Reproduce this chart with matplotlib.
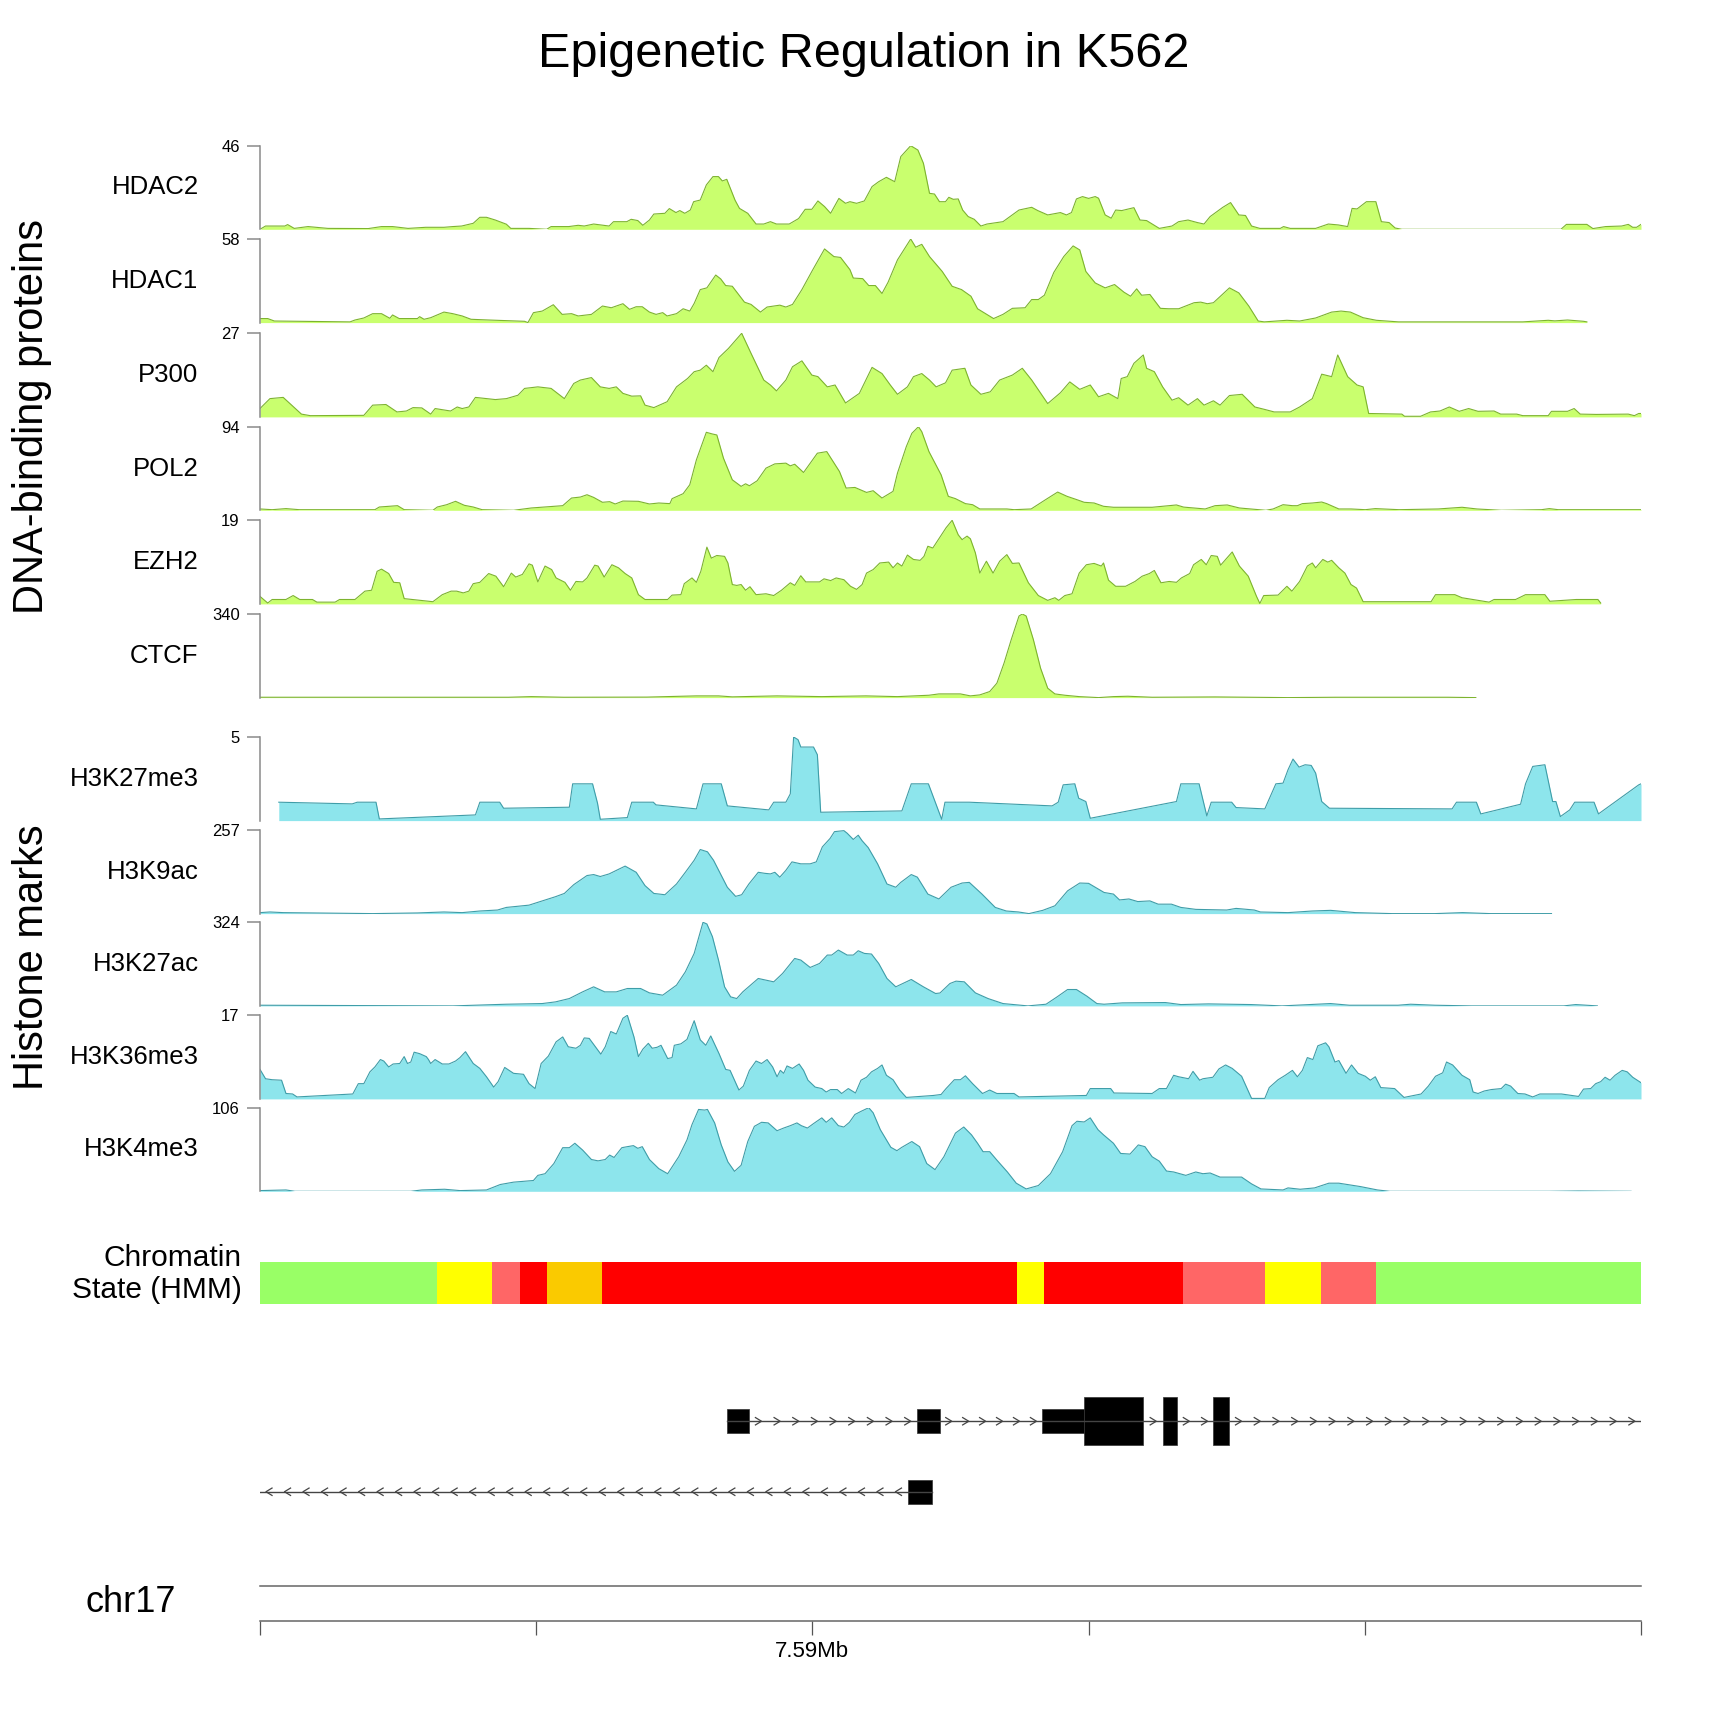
import numpy as np
import matplotlib
matplotlib.use('Agg')
import matplotlib.pyplot as plt
from matplotlib.collections import LineCollection

plt.rcParams['font.family'] = ['Liberation Sans', 'DejaVu Sans']

W = H = 1728
region_start = 7580000
region_end = 7605000

title = 'Epigenetic Regulation in K562'

# сигналы: (позиция в kb от начала окна, значение)
hdac2 = [(0.0, 0), (0.1, 1.8), (0.45, 1.8), (0.5, 2.6), (0.62, 0.5), (0.87, 1.5), (1.23, 0.5), (1.96, 0.4), (2.2, 1.5),
         (2.4, 1.5), (2.68, 0.5), (3.0, 1.1), (3.33, 1.1), (3.49, 1.5), (3.65, 1.8), (3.86, 3.3), (3.98, 6.6), (4.1, 6.6),
         (4.26, 5.1), (4.46, 2.8), (4.54, 0.5), (4.87, 0.5), (5.19, 0), (5.27, 1.5), (5.59, 1.5), (5.76, 2.2), (5.87, 1.8),
         (6.04, 2.9), (6.32, 1.8), (6.4, 4.2), (6.64, 4.2), (6.72, 5.5), (6.84, 4.8), (6.93, 2.2), (7.05, 5.1), (7.13, 8.4),
         (7.33, 8.8), (7.41, 11.4), (7.53, 9.2), (7.6, 10.3), (7.69, 8.8), (7.79, 10.6), (7.85, 15.2), (7.97, 16.1),
         (8.08, 24.4), (8.2, 29.0), (8.3, 29.0), (8.37, 26.6), (8.45, 27.5), (8.6, 16.0), (8.68, 11.5), (8.83, 8.8),
         (8.98, 2.9), (9.12, 2.9), (9.24, 4.2), (9.35, 2.9), (9.58, 2.9), (9.75, 5.9), (9.87, 11.0), (9.99, 11.0),
         (10.1, 15.6), (10.22, 12.5), (10.33, 8.8), (10.48, 17.0), (10.6, 14.3), (10.68, 15.2), (10.8, 14.3), (10.94, 15.6),
         (11.08, 23.5), (11.2, 26.2), (11.34, 28.6), (11.49, 26.2), (11.6, 40.0), (11.78, 46.0), (11.91, 43.6),
         (12.01, 36.3), (12.12, 19.8), (12.21, 19.4), (12.3, 15.2), (12.41, 15.2), (12.47, 17.6), (12.55, 16.5),
         (12.64, 16.7), (12.72, 10.6), (12.82, 7.0), (12.93, 5.5), (13.05, 1.8), (13.16, 2.9), (13.45, 4.2), (13.74, 10.6),
         (13.97, 12.1), (14.08, 10.3), (14.26, 7.9), (14.49, 9.2), (14.6, 7.9), (14.69, 9.2), (14.78, 16.7), (14.89, 18.0),
         (15.0, 17.0), (15.12, 18.0), (15.18, 17.1), (15.3, 7.9), (15.41, 6.1), (15.49, 10.6), (15.6, 10.3), (15.7, 11.0),
         (15.82, 11.9), (15.93, 5.1), (16.05, 4.8), (16.28, 0.5), (16.51, 1.8), (16.63, 4.2), (16.8, 5.1), (16.97, 3.7),
         (17.09, 2.9), (17.2, 7.0), (17.43, 12.1), (17.57, 14.7), (17.72, 7.9), (17.84, 7.6), (17.95, 1.8), (18.1, 0.5),
         (18.47, 0.5), (18.53, 1.5), (18.65, 0.5), (19.11, 0.5), (19.34, 2.9), (19.52, 2.4), (19.69, 1.5), (19.77, 11.5),
         (19.86, 11.2), (20.03, 15.2), (20.2, 15.2), (20.3, 4.2), (20.44, 3.7), (20.55, 0.7), (20.67, 0), (23.55, 0),
         (23.65, 2.7), (24.02, 2.7), (24.13, 0.4), (24.36, 1.5), (24.65, 1.8), (24.77, 2.7), (24.85, 1.1), (24.92, 1.1),
         (25.0, 2.7)]

hdac1 = [(0.0, 2.8), (0.14, 2.8), (0.26, 1.1), (1.63, 0.5), (1.72, 1.8), (1.88, 3.2), (2.04, 6.2), (2.2, 6.2), (2.35, 3.0),
         (2.4, 5.3), (2.52, 2.8), (2.85, 2.8), (2.89, 4.1), (2.97, 2.3), (3.09, 3.4), (3.33, 7.3), (3.49, 6.2), (3.66, 4.6),
         (3.82, 2.3), (4.14, 1.8), (4.79, 0.9), (4.85, 0), (4.95, 6.9), (5.11, 8.0), (5.31, 12.4), (5.47, 5.7), (5.64, 6.2),
         (5.76, 4.6), (6.0, 5.7), (6.2, 11.5), (6.36, 10.3), (6.57, 13.1), (6.69, 9.2), (6.81, 11.0), (6.92, 11.0),
         (7.05, 7.3), (7.17, 5.7), (7.29, 6.9), (7.37, 4.6), (7.54, 6.2), (7.66, 9.6), (7.78, 8.0), (7.86, 13.3),
         (7.97, 22.9), (8.09, 24.1), (8.25, 33.0), (8.34, 30.3), (8.43, 25.7), (8.55, 25.2), (8.77, 14.2), (8.89, 12.6),
         (9.06, 7.3), (9.18, 10.8), (9.41, 12.1), (9.52, 10.8), (9.64, 12.6), (9.81, 22.9), (9.99, 35.5), (10.22, 51.1),
         (10.39, 45.8), (10.51, 45.2), (10.68, 36.7), (10.74, 30.9), (10.91, 30.5), (11.02, 25.7), (11.14, 25.7),
         (11.26, 20.2), (11.37, 28.0), (11.54, 43.5), (11.78, 58.0), (11.87, 52.3), (11.98, 54.3), (12.12, 45.8),
         (12.35, 35.5), (12.53, 25.2), (12.7, 22.9), (12.87, 18.3), (12.99, 9.6), (13.28, 2.8), (13.45, 5.7), (13.62, 9.9),
         (13.85, 10.3), (13.97, 16.0), (14.09, 16.0), (14.2, 19.0), (14.37, 34.8), (14.55, 45.8), (14.72, 53.2),
         (14.84, 50.4), (14.95, 35.5), (15.12, 27.5), (15.3, 24.1), (15.47, 26.4), (15.64, 21.1), (15.76, 18.3),
         (15.87, 23.4), (15.96, 19.0), (16.11, 19.5), (16.3, 9.9), (16.45, 9.6), (16.63, 9.6), (16.91, 13.8), (17.03, 14.2),
         (17.15, 13.1), (17.26, 13.8), (17.55, 24.1), (17.72, 20.6), (17.9, 11.5), (18.07, 1.1), (18.18, 0.5), (18.59, 1.6),
         (18.82, 1.1), (19.11, 3.2), (19.4, 7.3), (19.57, 8.0), (19.74, 7.3), (19.97, 3.4), (20.21, 1.6), (20.61, 0.5),
         (22.86, 0.5), (23.32, 1.6), (23.44, 1.2), (23.67, 1.8), (23.96, 0.9), (24.02, 0.5)]

p300 = [(0.0, 2.7), (0.18, 5.9), (0.42, 6.3), (0.75, 0.9), (0.91, 0.4), (1.88, 0.5), (2.04, 3.8), (2.28, 4.0), (2.48, 1.6),
        (2.65, 1.9), (2.77, 3.0), (2.93, 2.9), (3.09, 0.9), (3.17, 2.7), (3.45, 1.9), (3.57, 3.2), (3.66, 2.7), (3.78, 3.2),
        (3.9, 6.3), (4.26, 5.6), (4.46, 5.9), (4.67, 7.0), (4.79, 9.2), (5.03, 9.7), (5.27, 9.2), (5.51, 5.9), (5.68, 10.8),
        (5.8, 11.9), (6.0, 12.7), (6.16, 9.7), (6.32, 9.2), (6.45, 9.7), (6.57, 7.6), (6.73, 6.7), (6.89, 6.8), (6.97, 3.8),
        (7.13, 3.0), (7.37, 4.9), (7.54, 9.7), (7.74, 12.4), (7.86, 14.6), (7.97, 15.1), (8.08, 16.7), (8.2, 14.6),
        (8.31, 19.2), (8.48, 22.1), (8.72, 27.0), (8.89, 20.5), (9.12, 11.9), (9.24, 10.3), (9.35, 8.4), (9.52, 11.9),
        (9.64, 16.2), (9.81, 18.1), (9.99, 13.5), (10.1, 13.0), (10.27, 9.7), (10.41, 10.3), (10.6, 4.5), (10.85, 7.6),
        (11.08, 16.0), (11.26, 14.0), (11.41, 10.3), (11.54, 7.3), (11.72, 9.7), (11.83, 13.0), (11.98, 14.0),
        (12.12, 11.9), (12.24, 9.7), (12.41, 11.0), (12.53, 15.1), (12.76, 15.7), (12.87, 10.3), (13.05, 7.3),
        (13.22, 8.1), (13.39, 11.9), (13.62, 13.5), (13.8, 15.7), (13.97, 11.9), (14.26, 4.3), (14.49, 7.8), (14.66, 11.3),
        (14.84, 8.9), (15.03, 10.3), (15.18, 6.5), (15.36, 7.6), (15.53, 5.9), (15.59, 12.4), (15.7, 13.0), (15.82, 17.3),
        (15.99, 20.0), (16.05, 15.7), (16.19, 14.6), (16.34, 9.7), (16.51, 5.4), (16.63, 6.2), (16.8, 3.8), (16.97, 5.9),
        (17.09, 3.8), (17.26, 5.2), (17.38, 3.8), (17.55, 6.9), (17.78, 7.3), (18.01, 3.2), (18.19, 2.4), (18.36, 1.6),
        (18.65, 1.6), (18.82, 3.2), (19.05, 5.9), (19.22, 13.8), (19.4, 13.0), (19.51, 20.0), (19.69, 13.0), (19.86, 10.3),
        (19.97, 9.7), (20.07, 1.1), (20.67, 0.9), (20.72, 0.2), (21.01, 0.2), (21.19, 1.6), (21.36, 1.9), (21.53, 3.2),
        (21.71, 1.8), (21.88, 2.7), (22.05, 1.8), (22.34, 1.9), (22.46, 0.9), (22.75, 0.9), (22.86, 0.4), (23.32, 0.4),
        (23.38, 1.8), (23.67, 1.8), (23.79, 2.7), (23.9, 0.9), (24.19, 0.8), (24.77, 0.9), (24.88, 0.4), (24.96, 1.1),
        (25.0, 1.1)]

pol2 = [(0.0, 1.5), (0.22, 0.7), (0.47, 1.9), (0.71, 0.7), (2.08, 0.7), (2.16, 3.7), (2.49, 5.2), (2.61, 0.7), (3.13, 0),
        (3.21, 3.7), (3.38, 6.3), (3.54, 10.1), (3.7, 5.6), (3.86, 3.7), (4.02, 0.7), (4.59, 0), (4.91, 2.6), (5.48, 5.2),
        (5.64, 13.8), (5.8, 14.9), (5.92, 17.5), (6.04, 14.5), (6.2, 9.0), (6.33, 9.7), (6.43, 7.1), (6.57, 10.4),
        (6.85, 10.1), (7.05, 7.1), (7.22, 8.2), (7.42, 7.5), (7.46, 13.1), (7.66, 18.7), (7.78, 28.7), (7.9, 56.7),
        (8.03, 79.1), (8.08, 87.7), (8.19, 85.8), (8.27, 84.7), (8.39, 58.6), (8.55, 34.3), (8.71, 26.9), (8.79, 29.8),
        (8.86, 27.6), (9.0, 33.2), (9.16, 47.4), (9.32, 52.2), (9.52, 53.0), (9.6, 50.0), (9.68, 51.8), (9.84, 42.5),
        (10.09, 64.2), (10.26, 66.0), (10.49, 43.6), (10.61, 25.0), (10.77, 25.7), (10.98, 20.1), (11.1, 22.0),
        (11.26, 13.8), (11.46, 21.3), (11.54, 41.8), (11.7, 71.6), (11.8, 86.5), (11.92, 94.0), (11.98, 88.4),
        (12.11, 66.0), (12.33, 39.9), (12.46, 15.7), (12.59, 13.1), (12.77, 7.5), (12.9, 6.3), (13.03, 1.5), (13.52, 1.5),
        (13.65, 0.7), (13.96, 1.5), (14.22, 11.9), (14.44, 20.5), (14.61, 15.7), (14.79, 11.9), (14.92, 9.0), (15.1, 8.2),
        (15.27, 4.5), (15.45, 3.4), (16.15, 3.4), (16.59, 6.0), (16.72, 3.6), (17.11, 1.5), (17.29, 5.2), (17.51, 6.0),
        (17.73, 2.6), (18.08, 0.7), (18.21, 0), (18.34, 1.5), (18.52, 6.3), (18.69, 5.2), (18.78, 5.2), (18.87, 7.5),
        (19.05, 8.2), (19.22, 9.3), (19.31, 7.5), (19.53, 1.5), (19.75, 1.5), (20.01, 0.7), (20.19, 1.9), (20.62, 0.7),
        (21.33, 1.5), (21.76, 3.4), (22.03, 1.5), (22.47, 0), (23.2, 0.7), (23.34, 1.9), (23.5, 0.7), (25.0, 0.7)]

ezh2 = [(0.0, 1.7), (0.14, 0.2), (0.22, 1.0), (0.47, 1.0), (0.6, 1.9), (0.72, 1.0), (0.95, 1.0), (1.03, 0.4), (1.36, 0.4),
        (1.44, 1.0), (1.72, 1.0), (1.9, 2.9), (2.02, 3.1), (2.12, 7.4), (2.2, 7.9), (2.33, 6.9), (2.42, 4.9), (2.53, 4.8),
        (2.61, 1.2), (3.13, 0.5), (3.3, 2.1), (3.46, 2.9), (3.56, 2.9), (3.68, 2.5), (3.78, 2.9), (3.86, 4.6), (3.98, 4.9),
        (4.14, 6.9), (4.27, 6.3), (4.41, 3.9), (4.55, 7.0), (4.63, 6.1), (4.75, 6.7), (4.87, 9.1), (4.93, 8.8), (5.03, 5.0),
        (5.16, 8.6), (5.28, 7.8), (5.36, 5.9), (5.52, 4.9), (5.62, 3.1), (5.72, 5.1), (5.84, 5.0), (5.92, 5.9), (6.06, 8.8),
        (6.12, 8.6), (6.23, 6.1), (6.37, 8.9), (6.49, 8.2), (6.61, 6.9), (6.73, 5.9), (6.85, 2.1), (6.97, 1.0), (7.38, 1.0),
        (7.46, 2.0), (7.62, 2.1), (7.68, 4.6), (7.82, 5.9), (7.9, 4.9), (7.98, 7.4), (8.09, 12.9), (8.17, 10.4),
        (8.27, 11.0), (8.41, 10.8), (8.47, 9.3), (8.55, 4.4), (8.63, 4.2), (8.71, 4.4), (8.79, 3.1), (8.87, 3.9),
        (8.98, 2.1), (9.16, 2.3), (9.3, 1.9), (9.44, 3.1), (9.6, 4.8), (9.68, 4.2), (9.79, 6.4), (9.88, 5.0), (10.13, 5.0),
        (10.21, 5.7), (10.33, 5.3), (10.43, 5.9), (10.57, 5.5), (10.69, 4.0), (10.8, 3.3), (10.9, 4.4), (10.98, 7.0),
        (11.1, 7.8), (11.22, 9.3), (11.38, 9.5), (11.46, 8.2), (11.54, 9.3), (11.62, 8.6), (11.72, 11.1), (11.83, 10.1),
        (11.95, 9.9), (12.02, 10.8), (12.09, 13.1), (12.18, 12.7), (12.29, 14.8), (12.42, 17.3), (12.53, 19.0),
        (12.64, 15.7), (12.71, 14.6), (12.8, 15.4), (12.86, 14.8), (12.95, 11.6), (13.03, 7.0), (13.15, 9.7), (13.27, 7.0),
        (13.39, 9.7), (13.52, 11.2), (13.62, 9.2), (13.74, 9.3), (13.91, 4.8), (14.09, 1.9), (14.26, 0.8), (14.39, 1.4),
        (14.46, 0.8), (14.57, 1.9), (14.7, 2.3), (14.83, 7.0), (14.96, 8.9), (15.1, 9.2), (15.23, 8.6), (15.27, 9.3),
        (15.36, 5.4), (15.49, 4.0), (15.67, 4.0), (15.84, 5.1), (15.97, 6.3), (16.1, 6.9), (16.19, 7.6), (16.31, 4.8),
        (16.46, 5.1), (16.59, 4.9), (16.68, 5.9), (16.83, 6.9), (16.9, 8.9), (17.04, 10.1), (17.13, 8.9), (17.22, 11.0),
        (17.33, 10.8), (17.39, 8.8), (17.6, 11.8), (17.73, 8.6), (17.89, 6.3), (18.04, 1.7), (18.1, 0.1), (18.17, 1.9),
        (18.43, 2.0), (18.59, 4.0), (18.68, 2.9), (18.82, 5.1), (18.96, 8.6), (19.05, 9.3), (19.11, 8.2), (19.24, 10.1),
        (19.33, 9.5), (19.4, 9.9), (19.53, 8.2), (19.64, 7.0), (19.75, 4.4), (19.85, 3.6), (19.97, 0.5), (21.2, 0.5),
        (21.28, 2.1), (21.63, 2.1), (21.76, 1.4), (22.25, 0.4), (22.34, 1.0), (22.73, 1.0), (22.91, 2.1), (23.26, 2.1),
        (23.35, 0.6), (23.83, 1.0), (24.22, 1.0), (24.27, 0.2)]

ctcf = [(0.0, 1.4), (4.5, 1.4), (4.91, 4.0), (5.5, 1.4), (7.0, 2.0), (7.9, 7.0), (8.3, 7.0), (8.55, 3.0), (9.36, 7.0),
        (10.17, 4.0), (10.97, 7.0), (11.54, 4.0), (12.11, 9.6), (12.29, 15.0), (12.68, 15.0), (12.86, 7.0), (13.03, 11.0),
        (13.21, 24.6), (13.34, 58.7), (13.47, 140.6), (13.6, 236.0), (13.74, 331.7), (13.8, 340.0), (13.87, 331.7),
        (14.0, 236.0), (14.13, 120.0), (14.26, 38.2), (14.39, 15.0), (14.57, 9.6), (14.83, 4.0), (15.18, 0.0),
        (15.45, 4.0), (15.71, 5.5), (16.15, 1.4), (17.29, 2.7), (18.6, 0.0), (19.48, 1.4), (21.5, 1.4), (22.01, 0.0)]

h3k27me3 = [(0.34, 1.1), (1.67, 1.0), (1.76, 1.1), (2.1, 1.1), (2.16, 0.1), (3.9, 0.34), (3.98, 1.1), (4.34, 1.1),
            (4.41, 0.74), (5.6, 0.8), (5.66, 2.2), (6.02, 2.2), (6.11, 1.04), (6.16, 0.08), (6.65, 0.18), (6.73, 1.1),
            (7.12, 1.1), (7.17, 0.94), (7.9, 0.7), (8.02, 2.2), (8.35, 2.2), (8.46, 0.88), (9.21, 0.64), (9.3, 1.1),
            (9.52, 1.1), (9.6, 1.6), (9.66, 5.0), (9.74, 4.84), (9.79, 4.4), (10.02, 4.4), (10.09, 3.94), (10.15, 0.5),
            (11.62, 0.58), (11.79, 2.2), (12.1, 2.2), (12.34, 0.08), (12.4, 1.1), (12.84, 1.1), (14.34, 0.88),
            (14.45, 1.1), (14.54, 2.14), (14.75, 2.2), (14.82, 1.34), (14.95, 1.14), (15.03, 0.14), (16.59, 1.14),
            (16.67, 2.2), (17.0, 2.2), (17.14, 0.28), (17.22, 1.1), (17.59, 1.1), (17.67, 0.78), (18.19, 0.7),
            (18.39, 2.2), (18.52, 2.24), (18.61, 3.04), (18.7, 3.68), (18.81, 3.2), (18.92, 3.34), (19.03, 3.3),
            (19.11, 2.84), (19.22, 1.14), (19.36, 0.74), (21.58, 0.7), (21.66, 1.1), (22.02, 1.1), (22.1, 0.4),
            (22.82, 0.98), (22.91, 2.2), (23.04, 3.24), (23.26, 3.34), (23.4, 1.14), (23.46, 1.14), (23.54, 0.24),
            (23.71, 0.64), (23.8, 1.1), (24.15, 1.1), (24.23, 0.4), (24.96, 2.14), (25.0, 2.2)]

h3k9ac = [(0.0, 3), (0.18, 5), (0.42, 3), (2.04, 0), (2.85, 2), (3.33, 5), (3.66, 3), (3.98, 8), (4.3, 11), (4.46, 19),
          (4.87, 26), (5.11, 39), (5.35, 52), (5.51, 62), (5.68, 89), (5.92, 117), (6.04, 120), (6.16, 114), (6.32, 122),
          (6.61, 146), (6.81, 127), (6.97, 86), (7.13, 62), (7.33, 58), (7.54, 91), (7.7, 127), (7.86, 164), (7.97, 197),
          (8.1, 190), (8.21, 164), (8.46, 81), (8.61, 53), (8.72, 58), (8.85, 91), (9.02, 127), (9.13, 124), (9.24, 122),
          (9.32, 127), (9.41, 112), (9.52, 133), (9.63, 159), (9.79, 153), (9.96, 153), (10.07, 159), (10.18, 205),
          (10.32, 231), (10.4, 252), (10.57, 255), (10.63, 247), (10.74, 228), (10.83, 241), (10.9, 224), (11.01, 203),
          (11.18, 153), (11.35, 91), (11.51, 81), (11.6, 96), (11.79, 120), (11.9, 112), (12.09, 60), (12.29, 45),
          (12.51, 81), (12.71, 94), (12.84, 96), (13.07, 60), (13.31, 19), (13.51, 8), (13.73, 5), (13.92, 0), (14.17, 10),
          (14.39, 24), (14.62, 70), (14.84, 94), (15.0, 93), (15.28, 65), (15.45, 60), (15.56, 42), (15.73, 45), (15.89, 37),
          (16.11, 39), (16.26, 29), (16.5, 29), (16.67, 19), (16.94, 13), (17.5, 11), (17.67, 16), (18.0, 11), (18.11, 5),
          (18.61, 3), (19.05, 8), (19.38, 10), (19.83, 3), (20.49, 0), (21.27, 0), (21.77, 3), (22.27, 0), (23.38, 0)]

h3k27ac = [(0.0, 2.6), (3.49, 0), (4.46, 6.5), (5.11, 9.1), (5.35, 15.6), (5.6, 28.5), (5.84, 54.4), (6.04, 73.9),
           (6.24, 54.4), (6.45, 54.4), (6.65, 67.4), (6.89, 67.4), (7.05, 50.5), (7.29, 41.5), (7.54, 80.4), (7.7, 132),
           (7.86, 203.5), (8.02, 324), (8.09, 317.5), (8.19, 268.3), (8.3, 177.6), (8.41, 73.9), (8.52, 35), (8.63, 28.5),
           (8.74, 54.4), (9.02, 106.3), (9.3, 93.3), (9.46, 125.7), (9.68, 184), (9.79, 177.6), (9.96, 149),
           (10.13, 164.6), (10.27, 197), (10.35, 197), (10.47, 216.4), (10.63, 197), (10.74, 197), (10.83, 213.8),
           (10.94, 203.5), (11.07, 200.9), (11.2, 164.6), (11.35, 106.3), (11.51, 73.9), (11.79, 102.4), (12.01, 73.9),
           (12.23, 48), (12.31, 50), (12.49, 86.8), (12.6, 95.9), (12.75, 93.3), (12.95, 50.5), (13.18, 28.5),
           (13.45, 9.1), (13.9, 0), (14.23, 6.5), (14.43, 35), (14.62, 63.5), (14.78, 63.5), (14.97, 37.6), (15.15, 9.1),
           (15.28, 6.5), (15.61, 11.7), (16.39, 13), (16.67, 5.2), (17.17, 7.8), (17.94, 5.2), (18.5, 0), (19.38, 9.1),
           (19.72, 2.6), (20.6, 2.6), (20.83, 6.5), (21.27, 2.6), (21.93, 0), (23.6, 0), (23.82, 5.2), (24.21, 0)]

h3k36me3 = [(0.0, 6.0), (0.1, 4.1), (0.22, 3.9), (0.39, 3.8), (0.47, 1.1), (0.59, 1.0), (0.67, 0.4), (1.68, 1.0),
            (1.78, 3.1), (1.88, 3.1), (1.99, 5.5), (2.08, 6.5), (2.18, 8.0), (2.24, 7.7), (2.33, 6.5), (2.41, 7.1),
            (2.53, 7.2), (2.61, 8.6), (2.67, 7.2), (2.73, 7.5), (2.79, 9.5), (2.89, 9.2), (3.01, 8.6), (3.05, 8.0),
            (3.09, 7.2), (3.17, 8.0), (3.3, 7.1), (3.42, 7.1), (3.54, 7.7), (3.62, 8.4), (3.72, 9.6), (3.86, 7.2),
            (3.98, 6.2), (4.1, 4.5), (4.23, 2.4), (4.31, 3.5), (4.43, 6.4), (4.59, 5.2), (4.77, 5.0), (4.87, 3.1),
            (4.98, 2.1), (5.09, 7.2), (5.22, 8.7), (5.36, 11.6), (5.48, 12.6), (5.58, 10.6), (5.72, 10.3), (5.8, 10.9),
            (5.87, 12.4), (5.96, 12.3), (6.17, 9.1), (6.25, 10.6), (6.35, 13.7), (6.45, 13.2), (6.57, 16.4), (6.65, 17.0),
            (6.77, 12.6), (6.85, 8.6), (6.93, 10.1), (7.03, 11.3), (7.1, 10.3), (7.19, 10.5), (7.26, 10.9), (7.38, 8.2),
            (7.46, 8.4), (7.5, 10.9), (7.62, 11.2), (7.73, 12.1), (7.86, 15.9), (7.97, 12.0), (8.07, 10.9), (8.16, 12.8),
            (8.31, 9.2), (8.43, 6.0), (8.51, 5.8), (8.59, 3.8), (8.67, 1.8), (8.75, 2.6), (8.86, 5.8), (8.98, 7.7),
            (9.08, 7.2), (9.18, 8.0), (9.28, 6.5), (9.36, 4.5), (9.42, 5.8), (9.48, 5.2), (9.54, 6.7), (9.64, 6.2),
            (9.76, 7.1), (9.84, 5.8), (9.92, 3.8), (10.05, 2.4), (10.17, 2.1), (10.25, 1.4), (10.33, 1.9), (10.45, 1.9),
            (10.53, 1.1), (10.65, 2.1), (10.78, 1.2), (10.88, 3.8), (10.98, 4.4), (11.07, 5.5), (11.18, 6.2), (11.26, 6.9),
            (11.34, 4.8), (11.46, 3.9), (11.58, 1.8), (11.7, 0.3), (12.19, 0.7), (12.33, 0.9), (12.42, 2.1), (12.57, 3.9),
            (12.68, 3.9), (12.77, 4.7), (12.9, 3.1), (13.08, 1.1), (13.21, 1.8), (13.34, 1.1), (13.65, 1.1), (13.74, 0.4),
            (14.96, 0.7), (15.03, 2.1), (15.4, 2.1), (15.46, 1.2), (16.15, 1.1), (16.28, 2.1), (16.41, 2.1), (16.54, 4.8),
            (16.63, 4.5), (16.81, 4.1), (16.89, 5.6), (17.01, 3.8), (17.07, 4.1), (17.25, 4.4), (17.36, 6.1), (17.48, 6.9),
            (17.6, 6.2), (17.77, 4.6), (17.95, 0.1), (18.19, 0.1), (18.27, 2.3), (18.43, 3.9), (18.56, 4.8), (18.69, 5.8),
            (18.78, 4.5), (18.87, 5.8), (18.96, 8.4), (19.06, 8.0), (19.15, 10.8), (19.29, 11.4), (19.35, 10.6),
            (19.46, 7.5), (19.53, 7.8), (19.66, 5.2), (19.76, 6.9), (19.88, 5.2), (20.01, 4.6), (20.1, 3.8), (20.19, 4.5),
            (20.29, 2.3), (20.54, 2.1), (20.71, 0.3), (21.02, 1.0), (21.15, 2.6), (21.28, 4.6), (21.41, 5.3), (21.48, 7.5),
            (21.59, 6.9), (21.76, 4.8), (21.9, 3.9), (21.96, 1.4), (22.05, 1.1), (22.16, 1.6), (22.29, 1.9), (22.47, 2.1),
            (22.55, 3.0), (22.64, 2.6), (22.77, 1.1), (22.9, 1.0), (23.04, 0.4), (23.17, 1.0), (23.56, 1.0), (23.87, 0.5),
            (23.96, 2.0), (24.09, 2.1), (24.18, 3.1), (24.27, 3.5), (24.35, 4.4), (24.44, 3.8), (24.53, 4.8), (24.66, 5.8),
            (24.75, 5.5), (24.85, 4.4), (24.97, 3.5), (25.0, 3.3)]

h3k4me3 = [(0.0, 0.9), (0.47, 1.7), (0.63, 0), (2.73, 0), (2.93, 1.7), (3.34, 2.6), (3.62, 0.9), (4.1, 1.7), (4.35, 8.6),
           (4.59, 11.6), (4.95, 13.7), (5.03, 20.2), (5.16, 22.3), (5.32, 35.2), (5.48, 55.3), (5.6, 55.3), (5.7, 60.9),
           (5.84, 52.3), (6.0, 40.3), (6.12, 38.6), (6.25, 40.3), (6.33, 45.9), (6.41, 42.9), (6.55, 55.3), (6.65, 56.6),
           (6.76, 57.9), (6.84, 54.5), (6.92, 56.6), (7.05, 40.3), (7.22, 28.7), (7.38, 22.3), (7.58, 43.8), (7.73, 65.2),
           (7.82, 84.5), (7.94, 103.8), (8.05, 103.0), (8.1, 103.8), (8.23, 86.7), (8.35, 58.8), (8.47, 37.3),
           (8.59, 25.3), (8.71, 33.0), (8.83, 63.1), (8.95, 82.4), (9.08, 87.5), (9.2, 86.7), (9.36, 76.8), (9.48, 80.2),
           (9.6, 83.2), (9.72, 86.7), (9.8, 83.2), (9.91, 80.2), (10.02, 85.8), (10.17, 93.1), (10.25, 87.5),
           (10.35, 93.1), (10.47, 83.2), (10.57, 81.5), (10.67, 87.5), (10.77, 97.4), (10.89, 101.7), (11.02, 106.0),
           (11.1, 99.5), (11.23, 78.1), (11.42, 55.8), (11.53, 51.5), (11.62, 55.8), (11.8, 63.1), (11.94, 56.6),
           (12.07, 35.2), (12.22, 27.5), (12.38, 43.8), (12.59, 73.8), (12.74, 81.5), (12.88, 71.6), (12.99, 60.9),
           (13.09, 50.2), (13.21, 50.2), (13.34, 39.5), (13.53, 24.5), (13.69, 10.3), (13.87, 3.0), (14.09, 7.3),
           (14.31, 22.3), (14.53, 50.2), (14.7, 83.2), (14.79, 88.8), (14.92, 87.9), (15.03, 93.1), (15.17, 78.1),
           (15.27, 71.6), (15.45, 60.9), (15.58, 48.0), (15.75, 47.2), (15.9, 58.8), (16.02, 56.6), (16.15, 43.8),
           (16.28, 38.2), (16.41, 25.7), (16.54, 24.5), (16.76, 20.2), (16.94, 24.5), (17.07, 22.3), (17.2, 23.2),
           (17.38, 18.0), (17.77, 18.0), (17.95, 9.4), (18.12, 3.0), (18.52, 1.7), (18.61, 4.3), (18.83, 2.6),
           (19.09, 4.3), (19.35, 10.3), (19.53, 10.3), (19.92, 6.0), (20.23, 1.7), (20.45, 0), (23.34, 0), (23.87, 0.4),
           (24.82, 0)]

protein_names = ['HDAC2', 'HDAC1', 'P300', 'POL2', 'EZH2', 'CTCF']
protein_max = [46, 58, 27, 94, 19, 340]
protein_data = [hdac2, hdac1, p300, pol2, ezh2, ctcf]

histone_names = ['H3K27me3', 'H3K9ac', 'H3K27ac', 'H3K36me3', 'H3K4me3']
histone_max = [5, 257, 324, 17, 106]
histone_data = [h3k27me3, h3k9ac, h3k27ac, h3k36me3, h3k4me3]

# хроматиновые состояния (границы в kb)
chrom_bounds = [0, 3.2, 4.2, 4.7, 5.2, 6.2, 13.7, 14.2, 16.7, 18.2, 19.2, 20.2, 25]
chrom_colors = ['#99FF66', '#FFFF00', '#FF6666', '#FF0000', '#FACA00', '#FF0000',
                '#FFFF00', '#FF0000', '#FF6666', '#FFFF00', '#FF6666', '#99FF66']

# гены (kb)
tx1_span = (8.46, 25.0)
tx1_utr = [(8.46, 8.85), (11.89, 12.31), (14.15, 14.92)]
tx1_cds = [(14.92, 15.99), (16.34, 16.60), (17.26, 17.54)]
tx2_span = (0.0, 12.17)
tx2_utr = [(11.73, 12.17)]

axis_ticks_kb = [0, 5, 10, 15, 20, 25]
axis_labels = ['', '', '7.59Mb', '', '', '']

GREEN_FILL, GREEN_EDGE = '#C9FF6E', '#7DB32F'
CYAN_FILL, CYAN_EDGE = '#8DE5EC', '#3F9DA8'
GRAY = '#8a8a8a'


def to_bp(kb):
    return region_start + np.asarray(kb, dtype=float) * 1000


def px_axes(fig, x0, y0, x1, y1):
    return fig.add_axes([x0 / W, 1 - y1 / H, (x1 - x0) / W, (y1 - y0) / H])


def draw_signal(ax, pairs, ymax, fill, edge):
    kb, val = np.array(pairs, dtype=float).T
    x = to_bp(kb)
    ax.fill_between(x, 0, val, color=fill, lw=0)
    ax.plot(x, val, color=edge, lw=0.8)
    ax.set_xlim(region_start, region_end)
    ax.set_ylim(0, ymax)
    for s in ['top', 'right', 'bottom']:
        ax.spines[s].set_visible(False)
    ax.spines['left'].set_color(GRAY)
    ax.spines['left'].set_linewidth(1.1)
    ax.set_xticks([])
    ax.set_yticks([ymax])
    ax.set_yticklabels([str(ymax)])
    ax.tick_params(axis='y', length=9.6, width=1.1, color=GRAY, labelsize=12, pad=5)
    ax.patch.set_visible(False)


fig = plt.figure(figsize=(17.28, 17.28), dpi=100)

fig.text(0.5, 1 - 66.7 / H, title, ha='center', va='baseline', fontsize=35)

X0, X1 = 260, 1641
track_h = 83.6

protein_tops = [145.7, 239.0, 333.3, 426.7, 520.3, 614.0]
for top, name, ymax, data in zip(protein_tops, protein_names, protein_max, protein_data):
    ax = px_axes(fig, X0, top, X1, top + track_h)
    draw_signal(ax, data, ymax, GREEN_FILL, GREEN_EDGE)
    fig.text(198.5 / W, 1 - (top + track_h / 2) / H, name, ha='right', va='center', fontsize=18.5)

histone_tops = [737.0, 830.0, 922.3, 1015.3, 1107.7]
for top, name, ymax, data in zip(histone_tops, histone_names, histone_max, histone_data):
    ax = px_axes(fig, X0, top, X1, top + track_h)
    draw_signal(ax, data, ymax, CYAN_FILL, CYAN_EDGE)
    fig.text(198.5 / W, 1 - (top + track_h / 2) / H, name, ha='right', va='center', fontsize=18.5)

fig.text(32 / W, 1 - 416.6 / H, 'DNA-binding proteins', rotation=90, ha='center', va='center', fontsize=30)
fig.text(32 / W, 1 - 957.6 / H, 'Histone marks', rotation=90, ha='center', va='center', fontsize=30)

# chromatin state
ax_c = px_axes(fig, X0, 1261.7, X1, 1304.3)
starts = to_bp(chrom_bounds[:-1])
widths = np.diff(to_bp(chrom_bounds))
ax_c.broken_barh(list(zip(starts, widths)), (0, 1), facecolors=chrom_colors, lw=0)
ax_c.set_xlim(region_start, region_end)
ax_c.set_ylim(0, 1)
ax_c.axis('off')
fig.text(242 / W, 1 - 1274 / H, 'Chromatin\nState (HMM)', ha='right', va='center', fontsize=21.5,
         linespacing=1.2)

# gene models
ax_g = px_axes(fig, X0, 1386, X1, 1527)
ax_g.set_xlim(region_start, region_end)
ax_g.set_ylim(-0.5, 1.5)
ax_g.axis('off')

cds_h, utr_h = 0.677, 0.336
chev_w, chev_h = 120, 0.057
step = 0.34


def chevrons(y, gaps, direction):
    segs = []
    for a, b in gaps:
        n = int((b - a) / step + 0.7)
        if n < 1:
            continue
        seg = (b - a) / n
        for k in range(n):
            c = to_bp(a + seg * (k + 0.5))
            tail = c - direction * chev_w / 2
            tip = c + direction * chev_w / 2
            segs.append([(tail, y + chev_h), (tip, y), (tail, y - chev_h)])
    return segs


y1, y2 = 1.0, 0.0
ax_g.plot(to_bp(tx1_span), [y1, y1], color='#444444', lw=1.0)
ax_g.plot(to_bp(tx2_span), [y2, y2], color='#444444', lw=1.0)

ex1 = sorted(tx1_utr + tx1_cds)
gaps1 = [(ex1[i][1], ex1[i + 1][0]) for i in range(len(ex1) - 1)] + [(ex1[-1][1], tx1_span[1])]
gaps2 = [(tx2_span[0], tx2_utr[0][0])]
lc = LineCollection(chevrons(y1, gaps1, 1) + chevrons(y2, gaps2, -1), colors='#444444', linewidths=0.9)
ax_g.add_collection(lc)

ax_g.broken_barh([(to_bp(a), (b - a) * 1000) for a, b in tx1_utr], (y1 - utr_h / 2, utr_h),
                 facecolors='black', edgecolors='#333333', lw=0.5)
ax_g.broken_barh([(to_bp(a), (b - a) * 1000) for a, b in tx1_cds], (y1 - cds_h / 2, cds_h),
                 facecolors='black', edgecolors='#333333', lw=0.5)
ax_g.broken_barh([(to_bp(a), (b - a) * 1000) for a, b in tx2_utr], (y2 - utr_h / 2, utr_h),
                 facecolors='black', edgecolors='#333333', lw=0.5)

# genome axis
ax_a = px_axes(fig, X0, 1585.7, X1, 1620.7)
ax_a.set_xlim(region_start, region_end)
ax_a.set_ylim(0, 1)
ax_a.patch.set_visible(False)
for s in ['left', 'right']:
    ax_a.spines[s].set_visible(False)
for s in ['top', 'bottom']:
    ax_a.spines[s].set_color('#666666')
    ax_a.spines[s].set_linewidth(1.1)
ax_a.set_yticks([])
ax_a.set_xticks(to_bp(axis_ticks_kb))
ax_a.set_xticklabels(axis_labels)
ax_a.tick_params(axis='x', direction='out', length=10.3, width=0.9, color='#555555', labelsize=16, pad=4)
fig.text(131 / W, 1 - 1603 / H, 'chr17', ha='center', va='center', fontsize=26)

fig.savefig('out.png', dpi=100)
